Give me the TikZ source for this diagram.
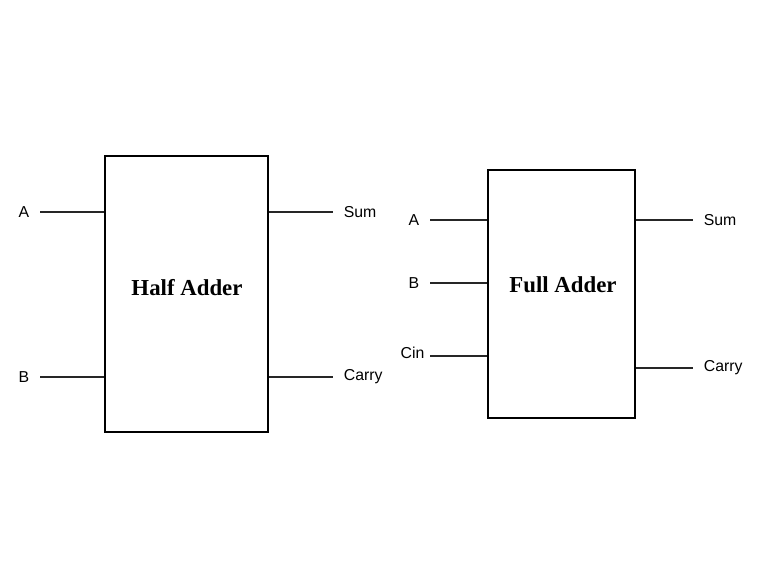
\documentclass[tikz,border=0pt]{standalone}
\usepackage{fontspec}
\setmainfont{Liberation Serif}
\setsansfont{Liberation Sans}
\usetikzlibrary{positioning}

\begin{document}
\begin{tikzpicture}[
    x=0.02cm, y=-0.02cm,
    adder/.style = {rectangle, draw=black, line width=1.4pt, inner sep=0pt},
    title/.style = {font=\fontsize{13}{15}\selectfont\bfseries},
    wire/.style  = {line width=1.6pt, draw=black!85},
    pin/.style   = {font=\sffamily\fontsize{9}{10}\selectfont, inner sep=1pt}
]
\useasboundingbox (0,0) rectangle (768,576);

% Half adder
\node[adder, minimum width=3.26cm, minimum height=5.52cm] (half) at (186.5,294) {};
\node[title] (halftitle) at (187,288) {Half Adder};
\coordinate (ha) at (40,212);
\coordinate (hb) at (40,377);
\coordinate (hs) at (333,212);
\coordinate (hc) at (333,377);
\draw[wire] (ha) -- (ha -| half.west);
\draw[wire] (hb) -- (hb -| half.west);
\draw[wire] (hs -| half.east) -- (hs);
\draw[wire] (hc -| half.east) -- (hc);
\node[pin, left=5pt of ha] {A};
\node[pin, left=5pt of hb] {B};
\node[pin, right=5pt of hs] {Sum};
\node[pin, right=5pt of hc] {Carry};

% Full adder
\node[adder, minimum width=2.94cm, minimum height=4.96cm] (full) at (561.5,294) {};
\node[title] (fulltitle) at (563,285) {Full Adder};
\coordinate (fa) at (430,220);
\coordinate (fb) at (430,283);
\coordinate (fcin) at (430,356);
\coordinate (fs) at (693,220);
\coordinate (fc) at (693,368);
\draw[wire] (fa) -- (fa -| full.west);
\draw[wire] (fb) -- (fb -| full.west);
\draw[wire] (fcin) -- (fcin -| full.west);
\draw[wire] (fs -| full.east) -- (fs);
\draw[wire] (fc -| full.east) -- (fc);
\node[pin, left=5pt of fa] {A};
\node[pin, left=5pt of fb] {B};
\node[pin, left=2pt of fcin, yshift=2pt] {Cin};
\node[pin, right=5pt of fs] {Sum};
\node[pin, right=5pt of fc] {Carry};
\end{tikzpicture}
\end{document}
